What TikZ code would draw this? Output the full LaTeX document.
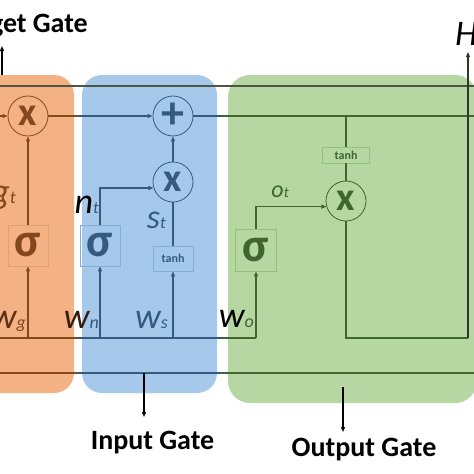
\documentclass[tikz,border=0pt]{standalone}
\usepackage{fontspec}
\setmainfont{Carlito}
\usetikzlibrary{arrows.meta}
\definecolor{oFill}{HTML}{F4B183}
\definecolor{bFill}{HTML}{A6C8EA}
\definecolor{gFill}{HTML}{B6D7A2}
\definecolor{oDark}{HTML}{85471E}
\definecolor{bDark}{HTML}{355A80}
\definecolor{gDark}{HTML}{40652E}
\definecolor{oEdge}{HTML}{DDA070}
\definecolor{bEdge}{HTML}{85AED6}
\definecolor{gEdge}{HTML}{93C07A}
\definecolor{topGray}{HTML}{4D5548}
\definecolor{hDark}{HTML}{2B3A25}
\newcommand\fsz[1]{\fontsize{#1}{#1}\selectfont}
\newcommand\tricolor[2][]{%
  \foreach \xa/\xb/\cc in {-10/78/oDark,78/222/bDark,222/490/gDark}{%
    \begin{scope}\clip (\xa,-10) rectangle (\xb,490);\draw[wire,color=\cc,#1] #2;\end{scope}}}
\begin{document}
\begin{tikzpicture}[x=1pt,y=-1pt,
  wire/.style={line width=1.2pt},
  arr/.style={-{Triangle[length=5pt,width=4pt]}},
  opnode/.style={circle, draw, minimum size=40pt, inner sep=0pt, line width=0.8pt, font=\bfseries\fsz{40}},
  sigbox/.style={draw, line width=0.8pt, minimum width=40pt, minimum height=41pt, inner sep=0pt, font=\bfseries\fsz{48}},
  tanhbox/.style={draw, line width=0.8pt, inner sep=0pt, font=\bfseries\fsz{12}},
  gatelabel/.style={font=\bfseries\fsz{28}, text=black, inner sep=0pt},
  varlabel/.style={font=\itshape, inner sep=0pt}
]
\useasboundingbox (0,0) rectangle (474,474);
\clip (0,0) rectangle (474,474);
\fill[white] (0,0) rectangle (474,474);

% gate regions
\fill[oFill, rounded corners=20pt] (-30,75) rectangle (74,393);
\fill[bFill, rounded corners=20pt] (82,75) rectangle (217,393);
\fill[gFill, rounded corners=22pt] (228,75) rectangle (477,403);

% operator nodes
\node[opnode, draw=oDark, text=oDark] (fx) at (28,116) {x};
\node[opnode, draw=bDark, text=bDark, font=\bfseries\fsz{46}] (plus) at (173,116) {+};
\node[opnode, draw=bDark, text=bDark] (ix) at (173,182) {x};
\node[opnode, draw=gDark, text=gDark] (ox) at (346,201) {x};

% activation boxes
\node[sigbox, draw=oEdge, text=oDark] (fs) at (28,245.5) {σ};
\node[sigbox, draw=bEdge, text=bDark] (ns) at (100,245.5) {σ};
\node[sigbox, draw=gEdge, text=gDark, minimum width=41pt, minimum height=42pt] (os) at (256,250) {σ};
\node[tanhbox, draw=bEdge, text=bDark, minimum width=40pt, minimum height=25pt] (itanh) at (173,258.5) {tanh};
\node[tanhbox, draw=gEdge, text=gDark, minimum width=47pt, minimum height=16pt] (otanh) at (346,155) {tanh};

% top line
\coordinate (tl) at (-10,86);
\coordinate (tr) at (490,86);
\draw[wire, topGray] (tl) -- (tr);

% cell state line
\coordinate (fin) at (-10,116);
\draw[wire, oDark, arr] (fin) -- (fx);
\tricolor[arr]{(fx) -- (plus)}
\coordinate (cr) at (490,116);
\tricolor{(plus) -- (cr)}
\coordinate (ctap) at (346,116);
\draw[wire, gDark] (ctap) -- (otanh);
\draw[wire, gDark] (otanh) -- (ox);

% input gate internals
\draw[wire, bDark, arr] (ix) -- (plus);
\draw[wire, bDark] (itanh) -- (ix);
\draw[wire, bDark, arr] (ns.north) |- (ix.197);

% output gate internals
\draw[wire, gDark, arr] (os.north) |- (ox.196);

% forget gate internals
\draw[wire, oDark, arr] (fs) -- (fx);

% bottom input line
\coordinate (bl) at (-10,338);
\coordinate (wg) at (28,338);
\coordinate (wn) at (100,338);
\coordinate (ws) at (173,338);
\coordinate (wo) at (256,338);
\tricolor{(bl) -- (wo)}
\draw[wire, gDark, arr] (wo) -- (os);
\draw[wire, oDark, arr] (wg) -- (fs);
\draw[wire, bDark, arr] (wn) -- (ns);
\draw[wire, bDark, arr] (ws) -- (itanh);

% output path
\coordinate (hr) at (468,338);
\coordinate (htip) at (468,52);
\draw[wire, gDark] (ox.south) |- (hr);
\draw[wire, hDark, arr] (hr) -- (htip);

% second bottom line
\coordinate (b2l) at (-10,373);
\coordinate (b2r) at (490,373);
\tricolor{(b2l) -- (b2r)}

% gate label arrows
\coordinate (fga) at (2,75);
\coordinate (fgb) at (2,46);
\draw[wire, black, arr] (fga) -- (fgb);
\coordinate (iga) at (144,373);
\coordinate (igb) at (144,417);
\draw[wire, black, arr] (iga) -- (igb);
\coordinate (oga) at (343,387);
\coordinate (ogb) at (343,432);
\draw[wire, black, arr] (oga) -- (ogb);

% gate labels
\node[gatelabel, anchor=base east] (fg) at (88,32) {Forget Gate};
\node[gatelabel, anchor=base] (ig) at (152.5,449.5) {Input Gate};
\node[gatelabel, anchor=base] (og) at (364,456) {Output Gate};
\node[varlabel, anchor=base west, font=\itshape\fsz{36}] (H) at (455,45) {H};

% variable labels
\node[varlabel, anchor=base east] (gt) at (16,203) {{\fsz{36}\color{oDark}g}{\fsz{18}\color{oDark}t}};
\node[varlabel, anchor=base east] (nt) at (99,213) {{\fsz{36}\color{black}n}{\fsz{17}\color{bDark}t}};
\node[varlabel, anchor=base east] (st) at (166,228) {{\fsz{34}\color{bDark}s}{\fsz{17}\color{bDark}t}};
\node[varlabel, anchor=base east] (ot) at (289,197) {{\fsz{24}\color{gDark}o}{\fsz{15}\color{gDark}t}};
\node[varlabel, anchor=base east] (lwg) at (26,328) {{\fsz{36}\color{oDark!70!black}w}{\fsz{18}\color{oDark}g}};
\node[varlabel, anchor=base east] (lwn) at (99,328) {{\fsz{36}\color{oDark!40!black}w}{\fsz{18}\color{bDark}n}};
\node[varlabel, anchor=base east] (lws) at (168,328) {{\fsz{36}\color{bDark}w}{\fsz{18}\color{bDark}s}};
\node[varlabel, anchor=base east] (lwo) at (254,327) {{\fsz{36}\color{black}w}{\fsz{18}\color{gDark}o}};
\end{tikzpicture}
\end{document}
